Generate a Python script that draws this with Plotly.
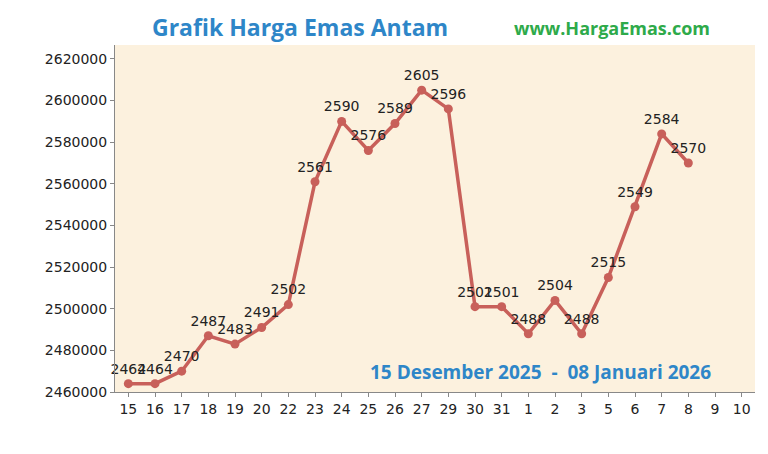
import plotly.graph_objects as go

days = ["15","16","17","18","19","20","22","23","24","25","26","27","29","30","31","1","2","3","5","6","7","8","9","10"]
prices = [2464000,2464000,2470000,2487000,2483000,2491000,2502000,2561000,2590000,2576000,2589000,2605000,2596000,2501000,2501000,2488000,2504000,2488000,2515000,2549000,2584000,2570000,None,None]
labels = [str(p//1000) if p else "" for p in prices]

OFF = 8  # page body margin
W, H = 768-OFF, 454-OFF
L, R, T, B = 115-OFF, 13, 45-OFF, 62
pw, ph = W-L-R, H-T-B
def px(x): return (x-OFF-L)/pw
def py(y): return 1-(y-OFF-T)/ph

xi = list(range(len(days)))
fig = go.Figure(go.Scatter(
    x=xi, y=prices, mode="lines+markers+text", text=labels, textposition="top center",
    textfont=dict(family="DejaVu Sans", size=14, color="#222"),
    line=dict(color="#c8605a", width=3.5), marker=dict(size=9, color="#c8605a"),
    cliponaxis=False))
fig.update_layout(
    width=W, height=H, margin=dict(l=L, r=R, t=T, b=B),
    paper_bgcolor="white", plot_bgcolor="#fcf1de", showlegend=False,
    xaxis=dict(tickvals=xi, ticktext=days, range=[-0.5, 23.5], showgrid=False, zeroline=False,
               showline=True, linecolor="#888", ticks="outside", ticklen=4, tickcolor="#888",
               tickfont=dict(family="DejaVu Sans", size=14, color="#222")),
    yaxis=dict(range=[2460000, 2626700], dtick=20000, tickformat="d", showgrid=False, zeroline=False,
               showline=True, linecolor="#888", ticks="outside", ticklen=4, tickcolor="#888",
               tickfont=dict(family="DejaVu Sans", size=14, color="#222")),
    annotations=[
        dict(text="<b>Grafik Harga Emas Antam</b>", x=px(300), y=py(27), xref="paper", yref="paper",
             xanchor="center", yanchor="middle", showarrow=False,
             font=dict(family="Open Sans", size=23, color="#2e86c8")),
        dict(text="<b>www.HargaEmas.com</b>", x=px(612), y=py(28), xref="paper", yref="paper",
             xanchor="center", yanchor="middle", showarrow=False,
             font=dict(family="Open Sans", size=18, color="#2eaa4a")),
        dict(text="<b>15 Desember 2025  -  08 Januari 2026</b>", x=px(540), y=py(372), xref="paper", yref="paper",
             xanchor="center", yanchor="middle", showarrow=False,
             font=dict(family="Open Sans", size=19, color="#2e86c8")),
    ],
)
fig.write_html("out.html")
